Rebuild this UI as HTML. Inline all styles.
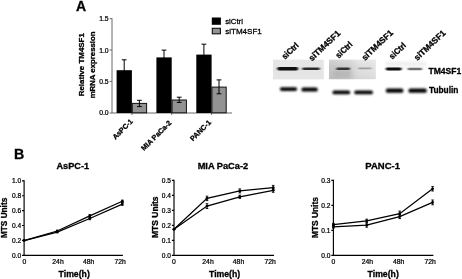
<!DOCTYPE html>
<html>
<head>
<meta charset="utf-8">
<title>Figure</title>
<style>
html,body{margin:0;padding:0;background:#fff;overflow:hidden;}
svg{display:block;font-family:"Liberation Sans",sans-serif;}
.b{font-weight:bold;}
.t{font-size:6.8px;fill:#000;stroke:#000;stroke-width:0.24;}
.b{stroke:#000;stroke-width:0.3;}
.ax{stroke:#5a5a5a;stroke-width:0.9;fill:none;}
.axb{stroke:#000;stroke-width:1.15;fill:none;}
.eb2{stroke:#000;stroke-width:0.9;fill:none;}
.ln{stroke:#000;stroke-width:1.25;fill:none;}
.eb{stroke:#000;stroke-width:1;fill:none;}
</style>
</head>
<body>
<svg width="462" height="279" viewBox="0 0 462 279">
<defs>
<filter id="bl" x="-20%" y="-100%" width="140%" height="300%"><feGaussianBlur stdDeviation="0.9 0.7"/></filter>
<filter id="bl4" x="-20%" y="-100%" width="140%" height="300%"><feGaussianBlur stdDeviation="1.1 0.85"/></filter>
<filter id="bl2" x="-20%" y="-100%" width="140%" height="300%"><feGaussianBlur stdDeviation="1.2 0.9"/></filter>
<linearGradient id="g2" x1="0" y1="0" x2="1" y2="0"><stop offset="0" stop-color="#c6c6c6"/><stop offset="0.42" stop-color="#cdcdcd"/><stop offset="0.62" stop-color="#dedede"/><stop offset="1" stop-color="#e3e3e3"/></linearGradient>
<linearGradient id="g2v" x1="0" y1="0" x2="0" y2="1"><stop offset="0" stop-color="#fff" stop-opacity="0.25"/><stop offset="0.35" stop-color="#fff" stop-opacity="0"/><stop offset="1" stop-color="#000" stop-opacity="0.04"/></linearGradient>
<filter id="bl3" x="-30%" y="-30%" width="160%" height="160%"><feGaussianBlur stdDeviation="2 1.6"/></filter>
<linearGradient id="g3" x1="0" y1="0" x2="0" y2="1"><stop offset="0" stop-color="#ececec"/><stop offset="0.45" stop-color="#f3f3f3"/><stop offset="1" stop-color="#ffffff"/></linearGradient>
</defs>
<rect width="462" height="279" fill="#fff"/>

<!-- ===== Panel A : bar chart ===== -->
<text class="b" x="76.1" y="10.6" font-size="14" stroke-width="0.4">A</text>
<g id="barchart">
<path class="ax" d="M112 18.3 V113 H232"/>
<path class="ax" d="M109.6 18.7H112 M109.6 50H112 M109.6 81.4H112 M109.6 113H112"/>
<path class="ax" d="M131.9 113V115 M171.7 113V115 M211.6 113V115"/>
<text class="t" x="108.6" y="21.1" text-anchor="end">1.5</text>
<text class="t" x="108.6" y="52.8" text-anchor="end">1.0</text>
<text class="t" x="108.6" y="83.8" text-anchor="end">0.5</text>
<text class="t" x="108.6" y="115.4" text-anchor="end">0.0</text>
<text class="b" font-size="8" textLength="63.2" lengthAdjust="spacingAndGlyphs" transform="translate(84.3 96.3) rotate(-90)">Relative TM4SF1</text>
<text class="b" font-size="8" textLength="66.8" lengthAdjust="spacingAndGlyphs" transform="translate(94.8 98.3) rotate(-90)">mRNA expression</text>
<!-- error bars -->
<path class="eb" d="M124.2 71V59.8 M121.8 59.8H126.6 M164 58V50.1 M161.6 50.1H166.4 M203.9 55V44.2 M201.5 44.2H206.3"/>
<!-- bars -->
<rect x="116.6" y="70.2" width="15.3" height="42.8" fill="#000"/>
<rect x="156.4" y="57.4" width="15.3" height="55.6" fill="#000"/>
<rect x="196.3" y="54.6" width="15.3" height="58.4" fill="#000"/>
<rect x="132.3" y="103.4" width="14.3" height="9.4" fill="#939393" stroke="#111" stroke-width="1"/>
<rect x="172.1" y="100" width="14.3" height="12.8" fill="#939393" stroke="#111" stroke-width="1"/>
<rect x="211.9" y="87.1" width="14.3" height="25.7" fill="#939393" stroke="#111" stroke-width="1"/>
<path class="eb" d="M139.4 100.3V106.6 M137 100.3H141.8 M137 106.6H141.8 M179.2 97.2V102.4 M176.8 97.2H181.6 M176.8 102.4H181.6 M219 79.9V93.8 M216.6 79.9H221.4 M216.6 93.8H221.4"/>
<text class="b" font-size="7.1" stroke-width="0.4" text-anchor="end" transform="translate(133.3 122) rotate(-45)">AsPC-1</text>
<text class="b" font-size="7.15" stroke-width="0.4" text-anchor="end" transform="translate(171.7 123.5) rotate(-45)">MIA PaCa-2</text>
<text class="b" font-size="7.2" stroke-width="0.4" text-anchor="end" transform="translate(211.5 123) rotate(-45)">PANC-1</text>
<!-- legend -->
<rect x="211.8" y="17.5" width="9.1" height="7.3" fill="#000"/>
<rect x="212.3" y="28.3" width="8.1" height="5.5" fill="#939393" stroke="#111" stroke-width="1.1"/>
<text x="225.2" y="23.9" font-size="8" stroke="#000" stroke-width="0.28" textLength="17.7" lengthAdjust="spacingAndGlyphs">siCtrl</text>
<text x="225.2" y="33.8" font-size="8" stroke="#000" stroke-width="0.28" textLength="36.6" lengthAdjust="spacingAndGlyphs">siTM4SF1</text>
</g>

<!-- ===== Panel A : western blots ===== -->
<g id="blots">
<rect x="273" y="59.7" width="50.8" height="19.7" fill="#e5e5e5"/>
<rect x="329" y="59.7" width="46.8" height="19.5" fill="url(#g2)"/>
<rect x="329" y="59.7" width="46.8" height="19.5" fill="url(#g2v)"/>
<rect x="333" y="70" width="18" height="8" fill="#a0a0a0" opacity="0.4" filter="url(#bl3)"/>
<rect x="385.5" y="61.8" width="41" height="9" fill="url(#g3)" filter="url(#bl2)"/>
<!-- TM4SF1 bands -->
<g filter="url(#bl)">
<rect x="277.2" y="67" width="21" height="3.5" rx="1.7" fill="#0a0a0a"/>
<rect x="302.2" y="67.5" width="17.6" height="2.5" rx="1.2" fill="#2c2c2c"/>
<rect x="336.3" y="67.6" width="13.8" height="2.3" rx="1.1" fill="#303030"/>
<rect x="358" y="67.6" width="13.5" height="1.7" rx="0.8" fill="#9f9f9f"/>
<rect x="385.8" y="67.4" width="15.8" height="3" rx="1.4" fill="#080808"/>
<rect x="407.6" y="67.7" width="14.6" height="2.6" rx="1.3" fill="#707070"/>
</g>
<!-- Tubulin bands -->
<g filter="url(#bl4)">
<rect x="279.8" y="87.2" width="17.4" height="3.7" rx="1.8" fill="#000"/>
<rect x="301.4" y="87.5" width="16.4" height="4.1" rx="1.9" fill="#000"/>
<rect x="332.4" y="90.5" width="17.8" height="3.8" rx="1.9" fill="#000"/>
<rect x="354.2" y="90.5" width="18.8" height="3.8" rx="1.9" fill="#000"/>
<rect x="385.8" y="88.6" width="17.6" height="4.2" rx="1.9" fill="#000"/>
<rect x="408.4" y="88.6" width="18.4" height="4.2" rx="1.9" fill="#000"/>
</g>
<!-- lane labels -->
<g class="b" font-size="8.5" stroke-width="0.42">
<text textLength="19.8" lengthAdjust="spacingAndGlyphs" transform="translate(285 59.7) rotate(-43.5)">siCtrl</text>
<text transform="translate(312.1 61.4) rotate(-43.5)">siTM4SF1</text>
<text textLength="19.8" lengthAdjust="spacingAndGlyphs" transform="translate(338.7 58.7) rotate(-43.5)">siCtrl</text>
<text transform="translate(364.9 60.9) rotate(-43.5)">siTM4SF1</text>
<text textLength="19.8" lengthAdjust="spacingAndGlyphs" transform="translate(392.3 59.7) rotate(-43.5)">siCtrl</text>
<text transform="translate(417.3 61.1) rotate(-43.5)">siTM4SF1</text>
</g>
<text class="b" x="428.5" y="74" font-size="8.8" stroke-width="0.4" textLength="32.8" lengthAdjust="spacingAndGlyphs">TM4SF1</text>
<text class="b" x="428.9" y="92.9" font-size="8.9" stroke-width="0.4" textLength="29.6" lengthAdjust="spacingAndGlyphs">Tubulin</text>
</g>

<!-- ===== Panel B ===== -->
<text class="b" x="14.1" y="159.1" font-size="14.2" stroke-width="0.4">B</text>

<!-- plot 1 : AsPC-1 -->
<g id="p1">
<text class="b" x="72.8" y="169.4" font-size="9.2" stroke-width="0.4" text-anchor="middle">AsPC-1</text>
<path class="axb" d="M24.1 180.20000000000002 V255.3 H122.9"/>
<path class="axb" d="M22.0 180.8H24.1 M22.0 195.7H24.1 M22.0 210.6H24.1 M22.0 225.5H24.1 M22.0 240.4H24.1 M22.0 255.3H24.1"/>
<g class="t" text-anchor="end" style="font-size:6.6px"><text x="21.1" y="183.10">1.0</text><text x="21.1" y="198.00">0.8</text><text x="21.1" y="212.90">0.6</text><text x="21.1" y="227.80">0.4</text><text x="21.1" y="242.70">0.2</text><text x="21.1" y="257.60">0.0</text></g>
<g class="t" text-anchor="middle"><text x="24.4" y="264.4">0</text><text x="58" y="264.4">24h</text><text x="88.7" y="264.4">48h</text><text x="120.2" y="264.4">72h</text></g>
<text class="b" font-size="8.3" textLength="40.2" lengthAdjust="spacingAndGlyphs" transform="translate(7.4 238) rotate(-90)">MTS Units</text>
<text class="b" x="74.2" y="276.5" font-size="8.7" text-anchor="middle">Time(h)</text>
<path class="ln" d="M24.1 240.6 L57.2 231.0 L89.8 215.9 L122.3 201.3"/>
<path class="ln" d="M24.1 240.6 L57.2 232.2 L89.8 218.5 L122.3 204.1"/>
<path class="eb2" d="M89.8 214.7V217.1 M88.5 214.7H91.1 M88.5 217.1H91.1 M89.8 217.3V219.7 M88.5 217.3H91.1 M88.5 219.7H91.1 M122.3 200.1V202.5 M121.0 200.1H123.6 M121.0 202.5H123.6 M122.3 202.9V205.3 M121.0 202.9H123.6 M121.0 205.3H123.6"/>
<g fill="#000"><circle cx="24.1" cy="240.6" r="1.4"/><circle cx="57.2" cy="231.0" r="1.4"/><circle cx="89.8" cy="215.9" r="1.4"/><circle cx="122.3" cy="201.3" r="1.4"/><circle cx="24.1" cy="240.6" r="1.4"/><circle cx="57.2" cy="232.2" r="1.4"/><circle cx="89.8" cy="218.5" r="1.4"/><circle cx="122.3" cy="204.1" r="1.4"/></g>
</g>

<!-- plot 2 : MIA PaCa-2 -->
<g id="p2">
<text class="b" x="222.9" y="169.0" font-size="9.25" stroke-width="0.4" text-anchor="middle">MIA PaCa-2</text>
<path class="axb" d="M174 179.70000000000002 V255.3 H274"/>
<path class="axb" d="M171.9 180.3H174 M171.9 195.3H174 M171.9 210.3H174 M171.9 225.3H174 M171.9 240.3H174 M171.9 255.3H174"/>
<g class="t" text-anchor="end" style="font-size:6.6px"><text x="171.0" y="182.60">0.5</text><text x="171.0" y="197.60">0.4</text><text x="171.0" y="212.60">0.3</text><text x="171.0" y="227.60">0.2</text><text x="171.0" y="242.60">0.1</text><text x="171.0" y="257.60">0.0</text></g>
<g class="t" text-anchor="middle"><text x="174" y="264.4">0</text><text x="208" y="264.4">24h</text><text x="238.5" y="264.4">48h</text><text x="270.2" y="264.4">72h</text></g>
<text class="b" font-size="8.3" textLength="41.6" lengthAdjust="spacingAndGlyphs" transform="translate(157.7 238) rotate(-90)">MTS Units</text>
<text class="b" x="224.6" y="276.5" font-size="8.7" text-anchor="middle">Time(h)</text>
<path class="ln" d="M174 229.3 L207 198.4 L239.8 190.9 L273.2 187.6"/>
<path class="ln" d="M174 229.3 L207 206.1 L239.8 196.8 L273.2 190.3"/>
<path class="eb2" d="M207 196.2V200.6 M205.7 196.2H208.3 M205.7 200.6H208.3 M207 203.7V208.5 M205.7 203.7H208.3 M205.7 208.5H208.3 M239.8 188.9V192.9 M238.5 188.9H241.1 M238.5 192.9H241.1 M239.8 195.2V198.4 M238.5 195.2H241.1 M238.5 198.4H241.1 M273.2 185.4V189.8 M271.9 185.4H274.5 M271.9 189.8H274.5 M273.2 188.3V192.3 M271.9 188.3H274.5 M271.9 192.3H274.5"/>
<g fill="#000"><circle cx="174" cy="229.3" r="1.4"/><circle cx="207" cy="198.4" r="1.4"/><circle cx="239.8" cy="190.9" r="1.4"/><circle cx="273.2" cy="187.6" r="1.4"/><circle cx="174" cy="229.3" r="1.4"/><circle cx="207" cy="206.1" r="1.4"/><circle cx="239.8" cy="196.8" r="1.4"/><circle cx="273.2" cy="190.3" r="1.4"/></g>
</g>

<!-- plot 3 : PANC-1 -->
<g id="p3">
<text class="b" x="382.7" y="169.0" font-size="9.5" stroke-width="0.4" text-anchor="middle">PANC-1</text>
<path class="axb" d="M333.4 179.70000000000002 V255.3 H433.4"/>
<path class="axb" d="M331.3 180.3H333.4 M331.3 205.3H333.4 M331.3 230.3H333.4 M331.3 255.3H333.4"/>
<g class="t" text-anchor="end" style="font-size:6.6px"><text x="330.4" y="182.60">0.3</text><text x="330.4" y="207.60">0.2</text><text x="330.4" y="232.60">0.1</text><text x="330.4" y="257.60">0.0</text></g>
<g class="t" text-anchor="middle"><text x="333.4" y="264.4">0</text><text x="367.3" y="264.4">24h</text><text x="398.7" y="264.4">48h</text><text x="430.2" y="264.4">72h</text></g>
<text class="b" font-size="8.3" textLength="40.8" lengthAdjust="spacingAndGlyphs" transform="translate(317.7 238) rotate(-90)">MTS Units</text>
<text class="b" x="383.2" y="276.5" font-size="8.7" text-anchor="middle">Time(h)</text>
<path class="ln" d="M333.4 224.7 L366.7 220.8 L399.7 213.7 L432.6 188.8"/>
<path class="ln" d="M333.4 226.8 L366.7 225.2 L399.7 216.6 L432.6 202.4"/>
<path class="eb2" d="M333.4 223.3V226.1 M332.1 223.3H334.7 M332.1 226.1H334.7 M333.4 225.4V228.2 M332.1 225.4H334.7 M332.1 228.2H334.7 M366.7 219.2V222.4 M365.4 219.2H368.0 M365.4 222.4H368.0 M366.7 223.2V227.2 M365.4 223.2H368.0 M365.4 227.2H368.0 M399.7 211.1V216.3 M398.4 211.1H401.0 M398.4 216.3H401.0 M399.7 214.6V218.6 M398.4 214.6H401.0 M398.4 218.6H401.0 M432.6 186.6V191.0 M431.3 186.6H433.9 M431.3 191.0H433.9 M432.6 200.0V204.8 M431.3 200.0H433.9 M431.3 204.8H433.9"/>
<g fill="#000"><circle cx="333.4" cy="224.7" r="1.4"/><circle cx="366.7" cy="220.8" r="1.4"/><circle cx="399.7" cy="213.7" r="1.4"/><circle cx="432.6" cy="188.8" r="1.4"/><circle cx="333.4" cy="226.8" r="1.4"/><circle cx="366.7" cy="225.2" r="1.4"/><circle cx="399.7" cy="216.6" r="1.4"/><circle cx="432.6" cy="202.4" r="1.4"/></g>
</g>
</svg>
</body>
</html>
